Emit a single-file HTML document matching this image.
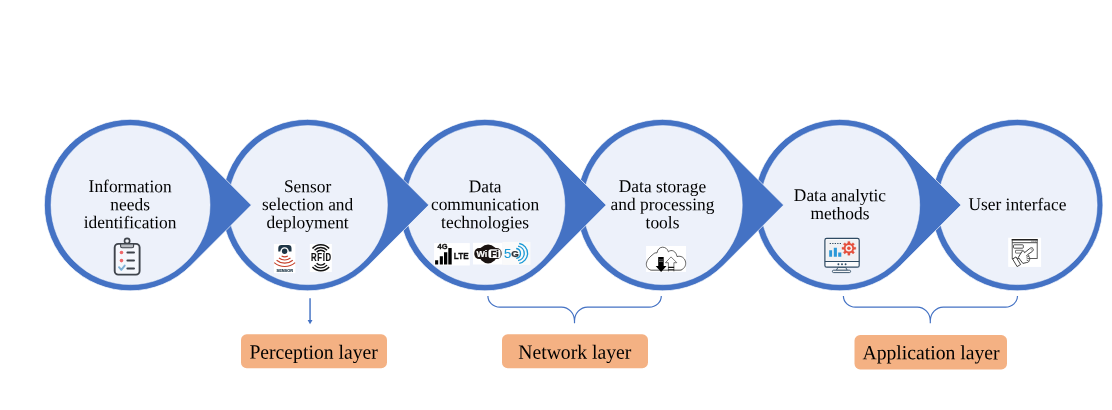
<!DOCTYPE html>
<html lang="en">
<head>
<meta charset="utf-8">
<title>IoT layers process</title>
<style>
html,body{margin:0;padding:0;background:#fff;}
body{width:1112px;height:410px;overflow:hidden;}
svg{display:block;will-change:transform;}
#labels,#layers{filter:grayscale(0);}
.t{font-family:"Liberation Serif","Times New Roman",serif;font-size:17.8px;text-rendering:geometricPrecision;fill:#000;text-anchor:middle;}
.l{font-family:"Liberation Serif","Times New Roman",serif;font-size:20.2px;text-rendering:geometricPrecision;fill:#000;text-anchor:middle;}
.b{font-family:"Liberation Sans",Arial,sans-serif;font-weight:bold;}
</style>
</head>
<body>
<svg width="1112" height="410" viewBox="0 0 1112 410">
<rect width="1112" height="410" fill="#fff"/>
<g id="shapes">
<circle cx="1017.20" cy="205.1" r="85.75" fill="#4472C4" stroke="#fff" stroke-width="0.7"/>
<circle cx="1017.60" cy="205.1" r="79.5" fill="#EDF1FA" stroke="#fff" stroke-width="0.5"/>
<path d="M900.41 144.47L961.05 205.10L900.41 265.73A85.75 85.75 0 1 1 900.41 144.47Z" fill="#4472C4" stroke="#fff" stroke-width="0.7"/>
<circle cx="840.18" cy="205.1" r="79.5" fill="#EDF1FA" stroke="#fff" stroke-width="0.5"/>
<path d="M722.99 144.47L783.63 205.10L722.99 265.73A85.75 85.75 0 1 1 722.99 144.47Z" fill="#4472C4" stroke="#fff" stroke-width="0.7"/>
<circle cx="662.76" cy="205.1" r="79.5" fill="#EDF1FA" stroke="#fff" stroke-width="0.5"/>
<path d="M545.57 144.47L606.21 205.10L545.57 265.73A85.75 85.75 0 1 1 545.57 144.47Z" fill="#4472C4" stroke="#fff" stroke-width="0.7"/>
<circle cx="485.34" cy="205.1" r="79.5" fill="#EDF1FA" stroke="#fff" stroke-width="0.5"/>
<path d="M368.15 144.47L428.79 205.10L368.15 265.73A85.75 85.75 0 1 1 368.15 144.47Z" fill="#4472C4" stroke="#fff" stroke-width="0.7"/>
<circle cx="307.92" cy="205.1" r="79.5" fill="#EDF1FA" stroke="#fff" stroke-width="0.5"/>
<path d="M190.73 144.47L251.37 205.10L190.73 265.73A85.75 85.75 0 1 1 190.73 144.47Z" fill="#4472C4" stroke="#fff" stroke-width="0.7"/>
<circle cx="130.50" cy="205.1" r="79.5" fill="#EDF1FA" stroke="#fff" stroke-width="0.5"/>
</g>
<g id="labels">
<text class="t" transform="matrix(0.978 0.0012 0 1 130.15 192.15)">Information</text>
<text class="t" transform="matrix(0.978 0.0012 0 1 130.15 210.15)">needs</text>
<text class="t" transform="matrix(0.978 0.0012 0 1 130.15 228.15)">identification</text>
<text class="t" transform="matrix(0.978 0.0012 0 1 307.60 192.15)">Sensor</text>
<text class="t" transform="matrix(0.978 0.0012 0 1 307.60 210.15)">selection and</text>
<text class="t" transform="matrix(0.978 0.0012 0 1 307.60 228.15)">deployment</text>
<text class="t" transform="matrix(0.978 0.0012 0 1 485.05 192.15)">Data</text>
<text class="t" transform="matrix(0.978 0.0012 0 1 485.05 210.15)">communication</text>
<text class="t" transform="matrix(0.978 0.0012 0 1 485.05 228.15)">technologies</text>
<text class="t" transform="matrix(0.978 0.0012 0 1 662.50 192.15)">Data storage</text>
<text class="t" transform="matrix(0.978 0.0012 0 1 662.50 210.15)">and processing</text>
<text class="t" transform="matrix(0.978 0.0012 0 1 662.50 228.15)">tools</text>
<text class="t" transform="matrix(0.978 0.0012 0 1 839.95 201.15)">Data analytic</text>
<text class="t" transform="matrix(0.978 0.0012 0 1 839.95 219.15)">methods</text>
<text class="t" transform="matrix(0.978 0.0012 0 1 1017.40 210.15)">User interface</text>
</g>
<g id="connectors" fill="none" stroke="#4472C4" stroke-width="1.2">
<path d="M310.05 298.3V321" stroke-width="1.45"/>
<path d="M307.6 320.1H312.5L310.05 324.3Z" fill="#4472C4" stroke="none"/>
<path d="M487.9 296.0A12.0 11.10 0 0 0 499.90 307.1H561.50A13.0 14.00 0 0 1 574.5 321.10V323.2M574.5 321.10A13.0 14.00 0 0 1 587.50 307.1H649.30A12.0 11.10 0 0 0 661.3 296.0"/>
<path d="M843.4 296.0A12.0 11.10 0 0 0 855.40 307.1H917.30A13.0 14.00 0 0 1 930.3 321.10V323.2M930.3 321.10A13.0 14.00 0 0 1 943.30 307.1H1005.50A12.0 11.10 0 0 0 1017.5 296.0"/>
</g>
<g id="layers">
<rect x="241" y="334.25" width="146" height="34" rx="5.7" fill="#F4B183"/>
<text class="l" transform="matrix(0.975 0.0012 0 1 313.6 358.7)">Perception layer</text>
<rect x="502" y="334.25" width="146" height="34" rx="5.7" fill="#F4B183"/>
<text class="l" transform="matrix(0.975 0.0012 0 1 574.8 358.7)">Network layer</text>
<rect x="854.5" y="335" width="152.5" height="34.5" rx="5.7" fill="#F4B183"/>
<text class="l" transform="matrix(0.975 0.0012 0 1 931.0 359.3)">Application layer</text>
</g>
<g id="icons">
<g id="icon-clipboard">
<circle cx="127.1" cy="241" r="2.6" fill="#F3F5FB" stroke="#3F444C" stroke-width="1.6"/>
<rect x="114.7" y="243.9" width="24.9" height="30.7" rx="3.6" fill="#F5F7FC" stroke="#3F444C" stroke-width="1.9"/>
<path d="M120.6 243.9H133.6V246.2Q133.6 247.7 132.1 247.7H122.1Q120.6 247.7 120.6 246.2Z" fill="#B9BCC2" stroke="#3F444C" stroke-width="1.1" stroke-linejoin="round"/>
<circle cx="121.5" cy="252.5" r="1.8" fill="#F0686A"/>
<circle cx="121.5" cy="260.6" r="1.8" fill="#F0686A"/>
<path d="M127.4 252.5H134M127.4 260.6H134M127.4 268.5H134" stroke="#3F444C" stroke-width="2" stroke-linecap="round" fill="none"/>
<path d="M119 267.2L121.3 269.9L124.7 265.6" stroke="#7FB0D6" stroke-width="1.9" stroke-linecap="round" stroke-linejoin="round" fill="none"/>
</g>
<g id="icon-sensor">
<rect x="273.9" y="243.9" width="21.5" height="29.3" fill="#fff"/>
<path d="M278.3 251.6V248.3Q278.3 245.1 281.5 245.1H288.3Q291.5 245.1 291.5 248.3V251.6H288.9A4.3 4.3 0 0 0 280.3 251.6Z" fill="#1D3546"/>
<circle cx="284.6" cy="251.2" r="2.7" fill="#1D3546"/>
<path d="M281.60 255.97A6.2 6.2 0 0 0 287.80 255.97M278.97 257.93A9.3 9.3 0 0 0 290.43 257.93M276.60 260.25A12.6 12.6 0 0 0 292.80 260.25M274.27 262.60A15.9 15.9 0 0 0 295.13 262.60" fill="none" stroke="#C5402A" stroke-width="1.15"/>
<text class="b" x="284.8" y="272.4" font-size="3.6" text-anchor="middle" textLength="16.4" lengthAdjust="spacingAndGlyphs" fill="#1D3546" stroke="#1D3546" stroke-width="0.15">SENSOR</text>
</g>
<g id="icon-rfid">
<rect x="309.8" y="244" width="22" height="28" fill="#fff"/>
<path d="M312.48 248.41A11.2 11.2 0 0 1 329.12 248.41M314.56 250.28A8.4 8.4 0 0 1 327.04 250.28M316.64 252.15A5.6 5.6 0 0 1 324.96 252.15M312.48 266.99A11.2 11.2 0 0 0 329.12 266.99M314.56 265.12A8.4 8.4 0 0 0 327.04 265.12M316.64 263.25A5.6 5.6 0 0 0 324.96 263.25" fill="none" stroke="#111" stroke-width="1.45"/>
<rect x="310.5" y="253.6" width="20.8" height="8" fill="#fff"/>
<text class="b" transform="translate(311.1 261.2) scale(0.76 1)" font-size="10.2" style="letter-spacing:0.8px" fill="#111" stroke="#111" stroke-width="0.2">RFID</text>
</g>
<g id="icon-lte">
<rect x="434.1" y="243.1" width="35.7" height="22.4" fill="#fff"/>
<path d="M435.1 260.2H438.2V264.5H435.1ZM439.8 256.3H442.9V264.5H439.8ZM444 252.2H447.3V264.5H444ZM448.3 248.1H451.7V264.5H448.3Z" fill="#000"/>
<text class="b" x="442.5" y="248.9" font-size="7.6" text-anchor="middle" textLength="9.9" lengthAdjust="spacingAndGlyphs" fill="#111" stroke="#111" stroke-width="0.35">4G</text>
<text class="b" x="461.2" y="259.4" font-size="9.3" text-anchor="middle" textLength="14.8" lengthAdjust="spacingAndGlyphs" fill="#111" stroke="#111" stroke-width="0.3">LTE</text>
</g>
<g id="icon-wifi">
<rect x="473" y="242.8" width="29.4" height="21.7" fill="#fff"/>
<ellipse cx="488.1" cy="253.9" rx="9.2" ry="9.5" fill="#1A1311"/>
<rect x="474.3" y="248" width="27.3" height="11.1" rx="5" fill="#1A1311"/>
<rect x="488.4" y="249.3" width="12.2" height="8.8" rx="2.6" fill="#fff"/>
<text class="b" x="481.8" y="257.2" font-size="9.3" text-anchor="middle" textLength="10.8" lengthAdjust="spacingAndGlyphs" fill="#fff" stroke="#fff" stroke-width="0.2">Wi</text>
<text class="b" x="494.7" y="257.2" font-size="9.3" text-anchor="middle" textLength="8" lengthAdjust="spacingAndGlyphs" fill="#1A1311" stroke="#1A1311" stroke-width="0.4">Fi</text>
</g>
<g id="icon-5g">
<rect x="502.4" y="241.9" width="28.1" height="23" fill="#FAFAFA"/>
<path d="M516.19 248.50A4.95 4.95 0 0 1 516.19 258.30M518.08 246.11A7.4 7.4 0 0 1 518.08 260.69M519.25 243.50A10.05 10.05 0 0 1 519.25 263.30" fill="none" stroke="#1B9AD6" stroke-width="1.35"/>
<text x="507.7" y="257.5" font-family="&quot;Liberation Sans&quot;,Arial,sans-serif" font-size="12.2" text-anchor="middle" textLength="7.3" lengthAdjust="spacingAndGlyphs" fill="#1B9AD6" stroke="#1B9AD6" stroke-width="0.1">5</text>
<text class="b" x="515" y="256.6" font-size="8.8" text-anchor="middle" textLength="7.6" lengthAdjust="spacingAndGlyphs" fill="#2E3338" stroke="#2E3338" stroke-width="0.25">G</text>
</g>
<g id="icon-cloud">
<rect x="646.1" y="246" width="39.9" height="25.9" fill="#fff"/>
<path d="M651.5 270.2C647.8 269.6 646 266.6 646.4 263.2C646.8 259.6 650.4 256.4 653.2 254.2C654.2 253 655.6 252.6 657 252.9C657.6 249.4 659.8 247.2 662.6 247.2C665.4 247.2 667.6 249 668.4 251.8C669.8 250.4 671.8 250.2 673.4 251C675.4 252 676.6 254.2 677 256.6C679.6 255.6 682.6 256.6 684.2 258.8C686.2 261.6 686.2 265.2 684.2 267.6C683 269.2 681.4 270.2 679.2 270.2Z" fill="#fff" stroke="#111" stroke-width="0.65"/>
<path d="M650.5 270.3H681.5" stroke="#888" stroke-width="0.7" fill="none"/>
<path d="M668.4 271.4V262.7H665.4L671 256.9L676.8 262.7H673.9V271.4" fill="#fff" stroke="#444" stroke-width="0.7" stroke-linejoin="miter"/>
<path d="M668.2 267.3H674.1M668.2 269.9H674.1" stroke="#111" stroke-width="1.2" fill="none"/>
<path d="M658.2 257.1H663.7V266H666.5L661.1 272L655.7 266H658.2Z" fill="#000"/>
<path d="M659 259.9H663M659 261.5H663" stroke="#9a9a9a" stroke-width="0.6" fill="none"/>
</g>
<g id="icon-monitor">
<path d="M837.9 267.4L836.3 270.4H847.3L845.7 267.4Z" fill="#F4F5F7" stroke="#2F4B63" stroke-width="0.9" stroke-linejoin="round"/>
<rect x="832.4" y="270.2" width="18.2" height="2.4" rx="1.2" fill="#F4F5F7" stroke="#2F4B63" stroke-width="0.9"/>
<rect x="824.9" y="238.4" width="34.3" height="28.8" rx="1.8" fill="#FBFBFC" stroke="#2F4B63" stroke-width="1.2"/>
<rect x="826.4" y="239.9" width="31.3" height="20.8" fill="#F0F1F3"/>
<path d="M824.9 261.5H859.2" stroke="#2F4B63" stroke-width="1" fill="none"/>
<path d="M838.4 264.3h0.01M842 264.3h0.01M845.6 264.3h0.01" stroke="#2F4B63" stroke-width="1.9" stroke-linecap="round" fill="none"/>
<path d="M829.7 243.5H841" stroke="#2F4B63" stroke-width="1" stroke-dasharray="1.3 1.2" fill="none"/>
<path d="M829.2 250.2H832.1V256.7H829.2ZM833.8 247.8H836.9V256.7H833.8ZM838.2 252.4H841.3V256.7H838.2Z" fill="#2B98D8"/>
<path d="M853.66 247.14L855.82 247.25L855.82 249.35L853.66 249.46L853.09 250.84L854.53 252.45L853.05 253.93L851.44 252.49L850.06 253.06L849.95 255.22L847.85 255.22L847.74 253.06L846.36 252.49L844.75 253.93L843.27 252.45L844.71 250.84L844.14 249.46L841.98 249.35L841.98 247.25L844.14 247.14L844.71 245.76L843.27 244.15L844.75 242.67L846.36 244.11L847.74 243.54L847.85 241.38L849.95 241.38L850.06 243.54L851.44 244.11L853.05 242.67L854.53 244.15L853.09 245.76Z" fill="#E5503C" stroke="#E5503C" stroke-width="0.3" stroke-linejoin="round"/>
<circle cx="848.9" cy="248.3" r="4.95" fill="#E5503C"/>
<circle cx="848.9" cy="248.3" r="3.3" fill="#F6F1F0"/>
<circle cx="848.9" cy="248.3" r="1.75" fill="#E5503C"/>
</g>
<g id="icon-ui">
<rect x="1008.2" y="237.7" width="32.9" height="29.2" fill="#fff"/>
<rect x="1012.2" y="239.8" width="25" height="18.7" fill="#fff" stroke="#4a4a4a" stroke-width="0.9"/>
<path d="M1011.7 239.7H1037.7" stroke="#222" stroke-width="1.4" fill="none"/>
<path d="M1012.2 242.7H1037.2" stroke="#333" stroke-width="0.9" fill="none"/>
<path d="M1031.4 241.2H1036.4" stroke="#555" stroke-width="0.9" stroke-dasharray="1.2 0.7" fill="none"/>
<rect x="1013.5" y="244.8" width="9.8" height="3.4" rx="0.7" fill="#fff" stroke="#333" stroke-width="0.85"/>
<rect x="1015.5" y="250.3" width="7.4" height="2.8" rx="0.4" fill="#fff" stroke="#444" stroke-width="0.75"/>
<path d="M1018.3 257.4L1021.9 251.6C1022.5 250.6 1023.6 250.6 1024 251.5L1024.5 252.7L1029.9 248.4C1031 247.5 1032.4 247.6 1033 248.6C1033.6 249.7 1033.2 250.8 1032.2 251.5L1027.6 254.6C1028.6 255 1029.1 255.8 1028.9 256.7C1029.6 257.2 1029.8 258.1 1029.4 258.9C1029.9 259.6 1029.7 260.5 1028.9 261C1028.8 262 1027.9 262.6 1026.8 262.5L1022.9 263.4Z" fill="#fff" stroke="#2e2e2e" stroke-width="0.9" stroke-linejoin="round"/>
<path d="M1026 255.6L1028.6 256.6M1026.4 257.8L1029 258.8M1026.6 260L1028.6 260.9" stroke="#2e2e2e" stroke-width="0.8" fill="none"/>
<circle cx="1031.5" cy="249.6" r="0.9" fill="#bbb"/>
<path d="M1012.6 259L1016 256.9L1020.6 264.5L1017.1 266.6Z" fill="#fff" stroke="#2e2e2e" stroke-width="0.9" stroke-linejoin="round"/>
</g>
</g>

</svg>
</body>
</html>
